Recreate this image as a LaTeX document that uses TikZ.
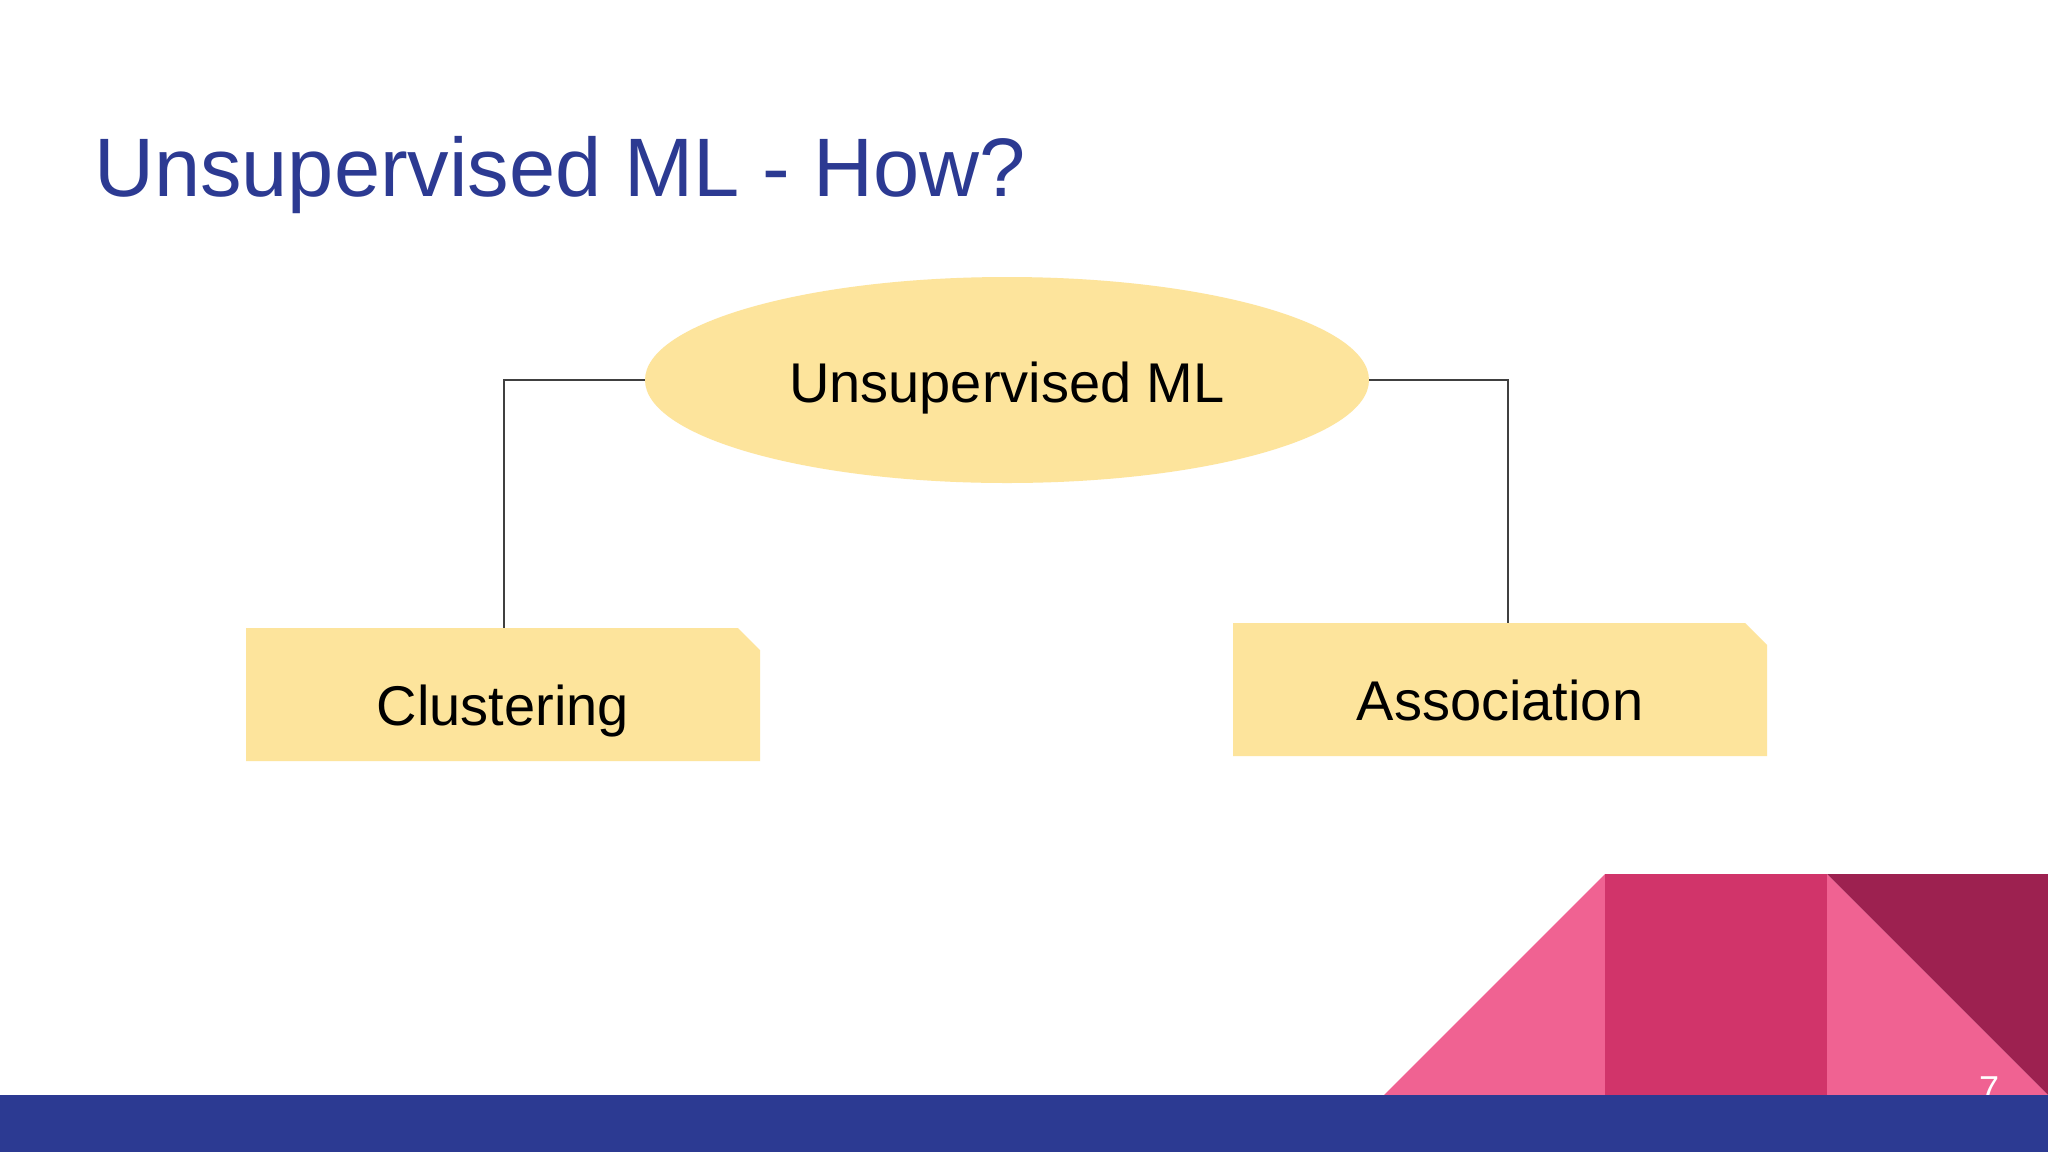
\documentclass[tikz,border=0pt]{standalone}
\usepackage{fontspec}
\setmainfont{Liberation Sans}
\usetikzlibrary{shapes.geometric,shapes.misc}

\definecolor{titleblue}{HTML}{2C3A92}
\definecolor{baryellow}{HTML}{FDE49C}
\definecolor{lightpink}{HTML}{F06292}
\definecolor{midpink}{HTML}{D1346A}
\definecolor{darkpink}{HTML}{9D2150}

\begin{document}
\begin{tikzpicture}[
            x=1pt, y=-1pt,
            topic/.style={ellipse, fill=baryellow, minimum width=724pt, minimum height=206pt, inner sep=0pt, font=\fontsize{56}{60}\selectfont, text height=44pt, text depth=0pt},
            card/.style={chamfered rectangle, chamfered rectangle corners=north east, chamfered rectangle xsep=11pt, chamfered rectangle ysep=11pt, fill=baryellow, inner sep=0pt, minimum height=133pt, font=\fontsize{56}{60}\selectfont, text height=61pt, text depth=0pt},
            link/.style={draw=black!75, line width=1.5pt}
            ]

            % Page
            \fill[white] (0,0) rectangle (2048,1152);
            \useasboundingbox (0,0) rectangle (2048,1152);

            % Title
            \node[anchor=base west, inner sep=0pt, text=titleblue, font=\fontsize{83}{88}\selectfont] (title) at (94,196) {Unsupervised ML - How?};

            % Main variables
            \node[topic] (unsup) at (1007,380) {Unsupervised ML};
            \node[card, minimum width=514pt] (clustering) at (503,694.5) {Clustering};
            \node[card, minimum width=534pt] (association) at (1500,689.5) {Association};

            % Links
            \draw[link] (unsup.west) -| ([xshift=1pt]clustering.north);
            \draw[link] (unsup.east) -| ([xshift=8pt]association.north);

            % Corner decoration
            \fill[lightpink] (1384,1095) -- (1605,874) -- (1605,1095) -- cycle;
            \fill[midpink] (1605,874) rectangle (1827,1095);
            \fill[lightpink] (1827,874) -- (2048,1095) -- (1827,1095) -- cycle;
            \fill[darkpink] (1827,874) -- (2048,874) -- (2048,1095) -- cycle;
            \node[anchor=base, inner sep=0pt, text=white, font=\fontsize{36}{40}\selectfont] (pagenum) at (1989,1101) {7};

            % Bottom bar
            \fill[titleblue] (0,1095) rectangle (2048,1152);

        \end{tikzpicture}
\end{document}
